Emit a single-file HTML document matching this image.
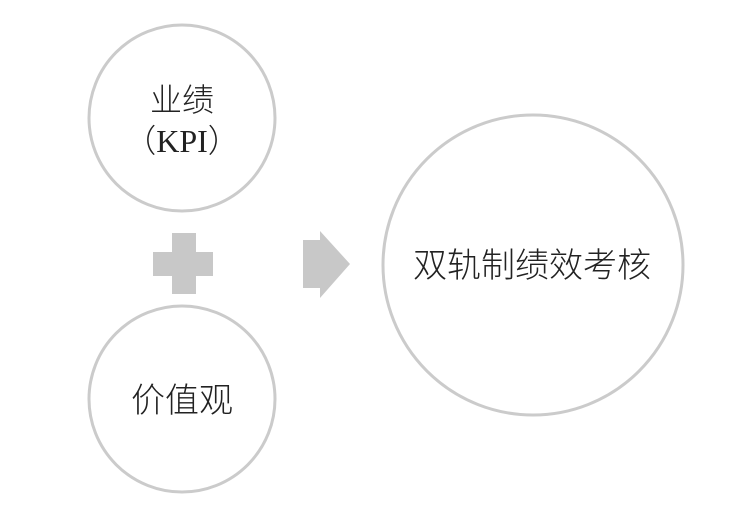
<!DOCTYPE html>
<html><head><meta charset="utf-8"><style>
html,body{margin:0;padding:0;background:#fff;}
svg{display:block}
text{font-family:"Noto Sans CJK SC",sans-serif;font-weight:300;fill:#222}
</style></head><body>
<svg width="748" height="510" viewBox="0 0 748 510">
<g fill="none" stroke="#cbcbcb" stroke-width="3">
<circle cx="182" cy="118" r="93"/>
<circle cx="182" cy="399" r="93"/>
<circle cx="533" cy="265" r="150"/>
</g>
<g fill="#c8c8c8">
<rect x="172" y="233" width="24" height="61"/>
<rect x="153" y="252" width="60" height="24"/>
<polygon points="303,240 320,240 320,231 350,264 320,298 320,288 303,288"/>
</g>
<text x="182" y="111" font-size="32" text-anchor="middle">业绩</text>
<text x="182" y="152" font-size="32" text-anchor="middle"><tspan>（</tspan><tspan style="font-family:'Liberation Serif',serif;font-weight:400">KPI</tspan><tspan>）</tspan></text>
<text x="182" y="412" font-size="34" text-anchor="middle">价值观</text>
<text x="532" y="277" font-size="34" text-anchor="middle">双轨制绩效考核</text>
</svg>
</body></html>
